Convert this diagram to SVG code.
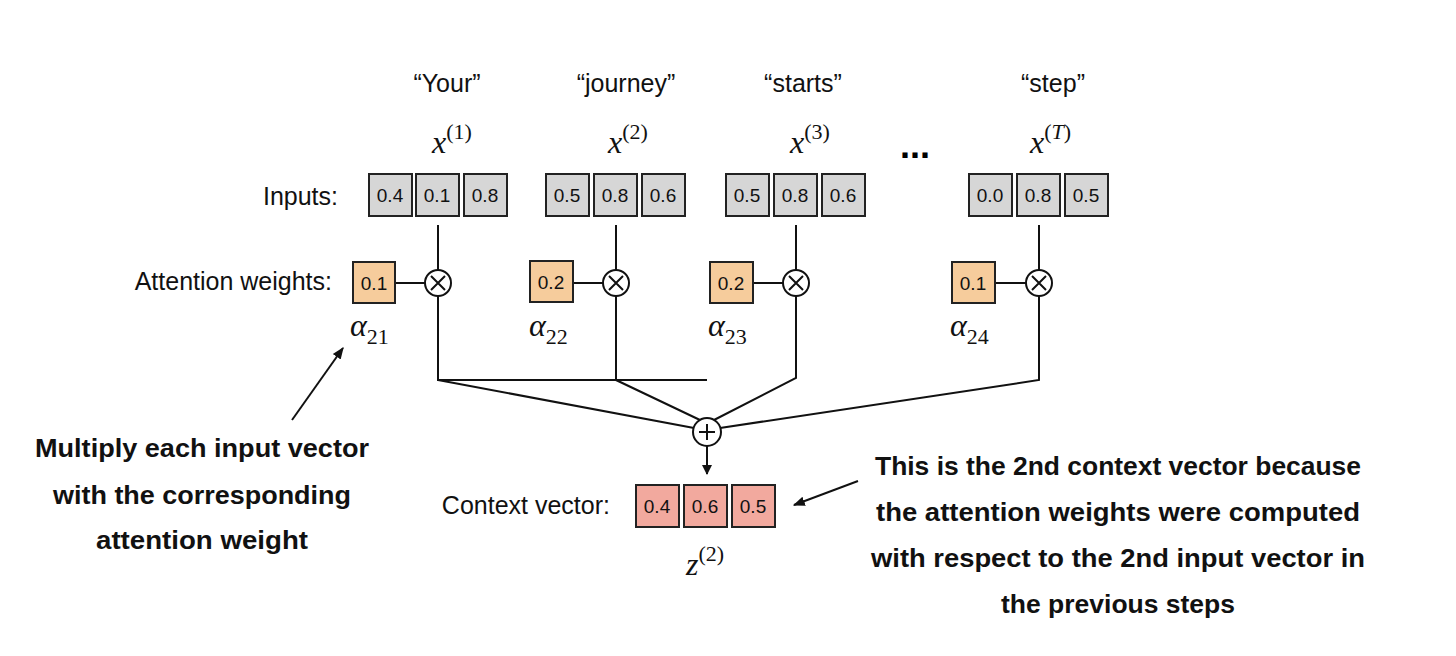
<svg xmlns="http://www.w3.org/2000/svg" width="1456" height="656" viewBox="0 0 1456 656">
<style>
.t{font-family:"Liberation Sans",Arial,sans-serif;font-size:25px;fill:#111}
.n{font-family:"Liberation Sans",Arial,sans-serif;font-size:19px;fill:#111;text-anchor:middle}
.m{font-family:"Liberation Serif","Times New Roman",serif;font-style:italic;font-size:32px;fill:#111}
.s{font-family:"Liberation Serif","Times New Roman",serif;font-size:22px}
.b{font-family:"Liberation Sans",Arial,sans-serif;font-weight:bold;font-size:26px;fill:#111;text-anchor:middle}
.g{fill:#d6d6d6;stroke:#222;stroke-width:2}
.o{fill:#f6cc9c;stroke:#222;stroke-width:2}
.r{fill:#f2a99e;stroke:#222;stroke-width:2}
.l{stroke:#111;stroke-width:2;fill:none}
.c{fill:#fff;stroke:#111;stroke-width:2}
</style>
<defs>
<marker id="ah" viewBox="0 0 10 10" refX="9" refY="5" markerWidth="5" markerHeight="5" orient="auto"><path d="M0,0L10,5L0,10z" fill="#111"/></marker>
<marker id="as" viewBox="0 0 10 10" refX="9" refY="5" markerWidth="6" markerHeight="6" orient="auto"><path d="M0,1L10,5L0,9z" fill="#111"/></marker>
</defs>
<g id="labels">
<text class="t" x="447" y="92" text-anchor="middle">“Your”</text>
<text class="t" x="626" y="92" text-anchor="middle">“journey”</text>
<text class="t" x="803" y="92" text-anchor="middle">“starts”</text>
<text class="t" x="1053" y="92" text-anchor="middle">“step”</text>
<text class="m" x="432" y="153">x<tspan class="s" dy="-14" font-style="normal">(1)</tspan></text>
<text class="m" x="608" y="153">x<tspan class="s" dy="-14" font-style="normal">(2)</tspan></text>
<text class="m" x="790" y="153">x<tspan class="s" dy="-14" font-style="normal">(3)</tspan></text>
<text class="m" x="1030" y="153">x<tspan class="s" dy="-14" font-style="normal">(</tspan><tspan class="s">T</tspan><tspan class="s" font-style="normal">)</tspan></text>
<text x="915" y="158" text-anchor="middle" font-family="Liberation Sans,sans-serif" font-weight="bold" font-size="36">...</text>
<text class="t" x="338" y="205" text-anchor="end">Inputs:</text>
<text class="t" x="332" y="290" text-anchor="end">Attention weights:</text>
<text class="t" x="610" y="514" text-anchor="end">Context vector:</text>
<text class="m" x="350" y="336">α<tspan class="s" font-style="normal" font-size="26" dy="8">21</tspan></text>
<text class="m" x="529" y="336">α<tspan class="s" font-style="normal" font-size="26" dy="8">22</tspan></text>
<text class="m" x="708" y="336">α<tspan class="s" font-style="normal" font-size="26" dy="8">23</tspan></text>
<text class="m" x="950" y="336">α<tspan class="s" font-style="normal" font-size="26" dy="8">24</tspan></text>
<text class="m" x="686" y="575">z<tspan class="s" font-style="normal" dy="-14">(2)</tspan></text>
</g>
<g id="connectors">
<path class="l" d="M438,225V270M438,296V380H707M616,225V270M616,296V380L700,420M796,225V270M796,296V378L714,420M1039,225V270M1039,296V380L720,428M438,380L694,428"/>
<path class="l" d="M395,283H425M573,283H603M753,283H783M995,283H1026"/>
<path class="l" d="M707,446V474" marker-end="url(#ah)"/>
<path class="l" stroke-width="3" d="M292,420L343,348" marker-end="url(#as)"/>
<path class="l" stroke-width="3" d="M858,481L794,505" marker-end="url(#as)"/>
</g>
<g id="input1"><rect class="g" x="369" y="174" width="43" height="42"/><rect class="g" x="416" y="174" width="43" height="42"/><rect class="g" x="464" y="174" width="43" height="42"/><text class="n" x="390" y="202">0.4</text><text class="n" x="437" y="202">0.1</text><text class="n" x="485" y="202">0.8</text></g>
<g id="input2"><rect class="g" x="546" y="174" width="43" height="42"/><rect class="g" x="594" y="174" width="43" height="42"/><rect class="g" x="642" y="174" width="43" height="42"/><text class="n" x="567" y="202">0.5</text><text class="n" x="615" y="202">0.8</text><text class="n" x="663" y="202">0.6</text></g>
<g id="input3"><rect class="g" x="726" y="174" width="43" height="42"/><rect class="g" x="774" y="174" width="43" height="42"/><rect class="g" x="822" y="174" width="43" height="42"/><text class="n" x="747" y="202">0.5</text><text class="n" x="795" y="202">0.8</text><text class="n" x="843" y="202">0.6</text></g>
<g id="input4"><rect class="g" x="969" y="174" width="43" height="42"/><rect class="g" x="1017" y="174" width="43" height="42"/><rect class="g" x="1065" y="174" width="43" height="42"/><text class="n" x="990" y="202">0.0</text><text class="n" x="1038" y="202">0.8</text><text class="n" x="1086" y="202">0.5</text></g>
<g id="w1"><rect class="o" x="353" y="262" width="42" height="41"/><text class="n" x="374" y="290">0.1</text></g>
<g id="w2"><rect class="o" x="530" y="261" width="43" height="41"/><text class="n" x="551" y="289">0.2</text></g>
<g id="w3"><rect class="o" x="710" y="262" width="43" height="41"/><text class="n" x="731" y="290">0.2</text></g>
<g id="w4"><rect class="o" x="952" y="262" width="43" height="41"/><text class="n" x="973" y="290">0.1</text></g>
<g id="mul1"><circle class="c" cx="438" cy="283" r="13"/><path class="l" d="M431,276L445,290M445,276L431,290"/></g>
<g id="mul2"><circle class="c" cx="616" cy="283" r="13"/><path class="l" d="M609,276L623,290M623,276L609,290"/></g>
<g id="mul3"><circle class="c" cx="796" cy="283" r="13"/><path class="l" d="M789,276L803,290M803,276L789,290"/></g>
<g id="mul4"><circle class="c" cx="1039" cy="283" r="13"/><path class="l" d="M1032,276L1046,290M1046,276L1032,290"/></g>
<g id="sum"><circle class="c" cx="707" cy="432" r="14"/><path class="l" d="M699,432H715M707,424V440"/></g>
<g id="context"><rect class="r" x="636" y="485" width="43" height="42"/><rect class="r" x="684" y="485" width="43" height="42"/><rect class="r" x="732" y="485" width="43" height="42"/><text class="n" x="657" y="513">0.4</text><text class="n" x="705" y="513">0.6</text><text class="n" x="753" y="513">0.5</text></g>
<g id="note-left">
<text class="b" x="202" y="457" textLength="334" lengthAdjust="spacingAndGlyphs">Multiply each input vector</text>
<text class="b" x="202" y="504" textLength="298" lengthAdjust="spacingAndGlyphs">with the corresponding</text>
<text class="b" x="202" y="549" textLength="212" lengthAdjust="spacingAndGlyphs">attention weight</text>
</g>
<g id="note-right">
<text class="b" x="1118" y="475" textLength="486" lengthAdjust="spacingAndGlyphs">This is the 2nd context vector because</text>
<text class="b" x="1118" y="521" textLength="484" lengthAdjust="spacingAndGlyphs">the attention weights were computed</text>
<text class="b" x="1118" y="567" textLength="494" lengthAdjust="spacingAndGlyphs">with respect to the 2nd input vector in</text>
<text class="b" x="1118" y="613" textLength="234" lengthAdjust="spacingAndGlyphs">the previous steps</text>
</g>
</svg>
